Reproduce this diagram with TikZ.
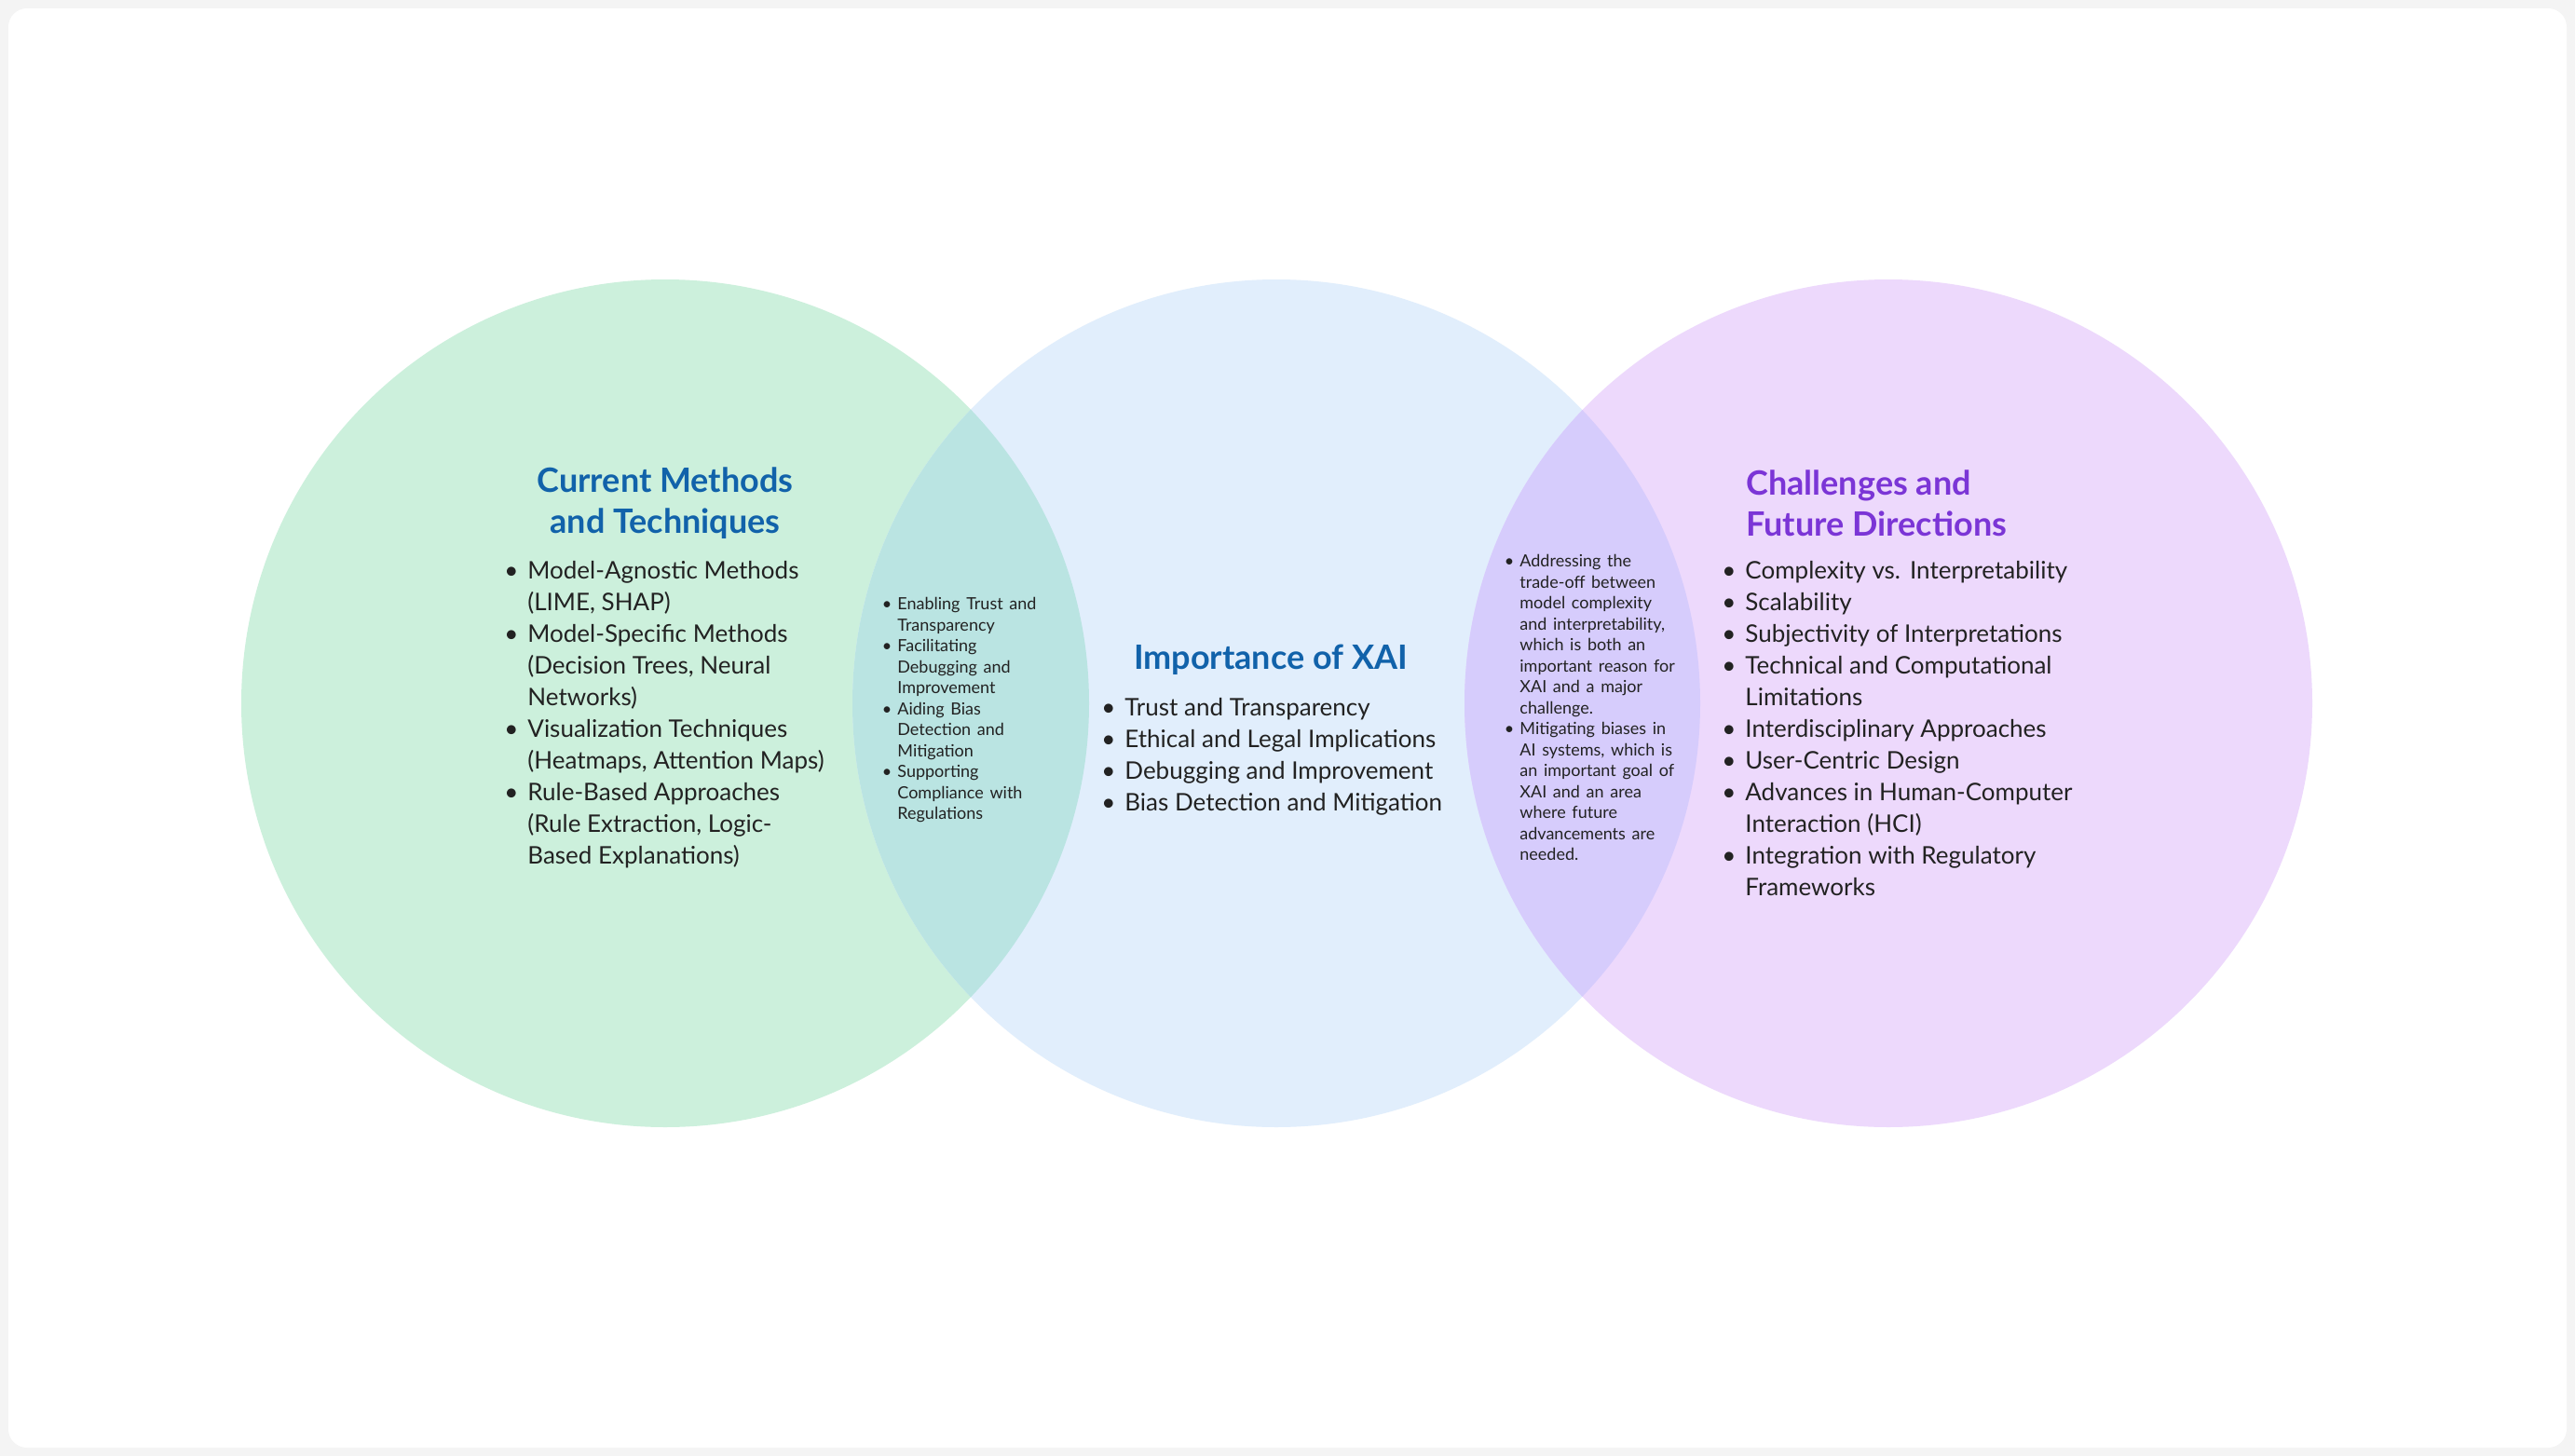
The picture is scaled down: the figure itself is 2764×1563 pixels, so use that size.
\documentclass[tikz,border=0pt]{standalone}
\usepackage{fontspec}
\setmainfont{Lato}
\usepackage{enumitem}
\definecolor{cg}{HTML}{CCF0DC}
\definecolor{cb}{HTML}{E1EEFC}
\definecolor{cp}{HTML}{EDD9FC}
\definecolor{cgb}{HTML}{BAE4E2}
\definecolor{cbp}{HTML}{D6CCFC}
\definecolor{tblue}{HTML}{1162AA}
\definecolor{tpurp}{HTML}{7B35D6}
\definecolor{txt}{HTML}{222222}
\newcommand{\biglist}[1]{\fontsize{13pt}{17pt}\selectfont\begin{itemize}[leftmargin=10.5pt,labelsep=5pt,itemsep=0pt,topsep=0pt,parsep=0pt,partopsep=0pt,label=\textbullet]#1\end{itemize}}
\newcommand{\smalllist}[1]{\fontsize{9pt}{11.25pt}\selectfont\begin{itemize}[leftmargin=6.5pt,labelsep=3pt,itemsep=0pt,topsep=0pt,parsep=0pt,partopsep=0pt,label=\textbullet]#1\end{itemize}}
\tikzset{
  lst/.style={anchor=north west,inner sep=0pt,text=txt,align=left},
  ttl/.style={inner sep=0pt,font=\fontsize{18pt}{22pt}\selectfont\bfseries},
}
\begin{document}
\begin{tikzpicture}[x=0.5pt,y=-0.5pt]
\fill[fill={rgb,255:red,244;green,244;blue,244}] (0,0) rectangle (2764,1563);
\fill[white,rounded corners=10pt] (9,9) rectangle (2755,1554);
\useasboundingbox (0,0) rectangle (2764,1563);
\fill[cg] (714,755) circle (455);
\fill[cb] (1370,755) circle (455);
\fill[cp] (2027,755) circle (455);
\begin{scope}
\clip (714,755) circle (455);
\fill[cgb] (1370,755) circle (455);
\end{scope}
\begin{scope}
\clip (2027,755) circle (455);
\fill[cbp] (1370,755) circle (455);
\end{scope}
% left
\node[ttl,text=tblue,align=center] (t1) at (714,540) {Current Methods\\and Techniques};
\node[lst,text width=190pt] (l1) at (545,587) {\biglist{
\item Model-Agnostic Methods\newline(LIME, SHAP)
\item Model-Specific Methods\newline(Decision Trees, Neural\newline Networks)
\item Visualization Techniques\newline(Heatmaps, Attention Maps)
\item Rule-Based Approaches\newline(Rule Extraction, Logic-\newline Based Explanations)}};
% middle intersection
\node[lst,text width=90pt] (l12) at (950,632) {\smalllist{
\item Enabling Trust and\newline Transparency
\item Facilitating\newline Debugging and\newline Improvement
\item Aiding Bias\newline Detection and\newline Mitigation
\item Supporting\newline Compliance with\newline Regulations}};
% middle
\node[ttl,text=tblue] (t2) at (1364,708) {Importance of XAI};
\node[lst,text width=200pt] (l2) at (1186,734) {\biglist{
\item Trust and Transparency
\item Ethical and Legal Implications
\item Debugging and Improvement
\item Bias Detection and Mitigation}};
% right intersection
\node[lst,text width=95pt] (l23) at (1618,586) {\smalllist{
\item Addressing the\newline trade-off between\newline model complexity\newline and interpretability,\newline which is both an\newline important reason for\newline XAI and a major\newline challenge.
\item Mitigating biases in\newline AI systems, which is\newline an important goal of\newline XAI and an area\newline where future\newline advancements are\newline needed.}};
% right
\node[ttl,text=tpurp,align=left,anchor=west] (t3) at (1874,540) {Challenges and\\Future Directions};
\node[lst,text width=200pt] (l3) at (1852,587) {\biglist{
\item Complexity vs. Interpretability
\item Scalability
\item Subjectivity of Interpretations
\item Technical and Computational\newline Limitations
\item Interdisciplinary Approaches
\item User-Centric Design
\item Advances in Human-Computer\newline Interaction (HCI)
\item Integration with Regulatory\newline Frameworks}};
\end{tikzpicture}
\end{document}
